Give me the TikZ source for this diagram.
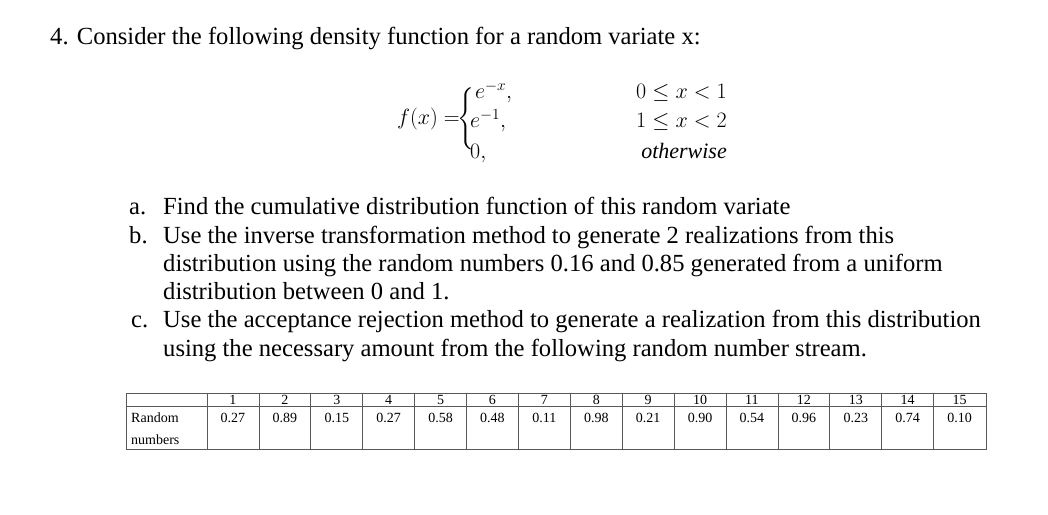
\RequirePackage{fix-cm}
\documentclass[tikz,border=0pt]{standalone}
\usepackage{fontspec}
\usepackage{amsmath}
\setmainfont{Liberation Serif}
\begin{document}
\begin{tikzpicture}[x=1pt,y=-1pt,
  txt/.style={anchor=base west,inner sep=0pt,font=\fontsize{24.6}{29}\selectfont},
  tb/.style={font=\fontsize{14}{16}\selectfont,inner sep=0pt},
  mth/.style={inner sep=0pt,font=\fontsize{22}{26}\selectfont}]
\useasboundingbox (0,0) rectangle (1048,514);
\node[txt] (t0) at (50,44) {4. Consider the following density function for a random variate x:};
\node[mth,anchor=east] (fx) at (460,119) {$f(x)=$};
\node[mth,anchor=west] (br) at (457,119) {$\left\{\vphantom{\rule{0pt}{36pt}}\right.$};
\node[mth,anchor=base west] (c1) at (475,98) {$e^{-x},$};
\node[mth,anchor=base west] (c2) at (470,127) {$e^{-1},$};
\node[mth,anchor=base west] (c3) at (470,158) {$0,$};
\node[mth,anchor=base east] (d1) at (727,98) {$0\le x<1$};
\node[mth,anchor=base east] (d2) at (727,127) {$1\le x<2$};
\node[mth,anchor=base east] (d3) at (727,158) {$\mathit{otherwise}$};
\node[txt] (a) at (129,214) {a.};
\node[txt] (at) at (163,214) {Find the cumulative distribution function of this random variate};
\node[txt] (b) at (129,243) {b.};
\node[txt] (bt1) at (163,243) {Use the inverse transformation method to generate 2 realizations from this};
\node[txt] (bt2) at (163,271) {distribution using the random numbers 0.16 and 0.85 generated from a uniform};
\node[txt] (bt3) at (163,299) {distribution between 0 and 1.};
\node[txt] (c) at (131,327) {c.};
\node[txt] (ct1) at (163,327) {Use the acceptance rejection method to generate a realization from this distribution};
\node[txt] (ct2) at (163,356) {using the necessary amount from the following random number stream.};
% table
\draw[gray!70!black,line width=0.8pt] (126,393) rectangle (986,449);
\draw[gray!70!black,line width=0.8pt] (126,406) -- (986,406);
\foreach \i in {0,...,14}{\draw[gray!70!black,line width=0.8pt] ({207+\i*51.9},393) -- ({207+\i*51.9},449);}
\foreach \i/\v [count=\k] in {1/0.27,2/0.89,3/0.15,4/0.27,5/0.58,6/0.48,7/0.11,8/0.98,9/0.21,10/0.90,11/0.54,12/0.96,13/0.23,14/0.74,15/0.10}{
  \node[tb,anchor=base] (h\k) at ({207+(\k-0.5)*51.9},404) {\i};
  \node[tb,anchor=base] (v\k) at ({207+(\k-0.5)*51.9},422) {\v};
}
\node[tb,anchor=base west] (r1) at (131,422) {Random};
\node[tb,anchor=base west] (r2) at (131,444) {numbers};
\end{tikzpicture}
\end{document}
